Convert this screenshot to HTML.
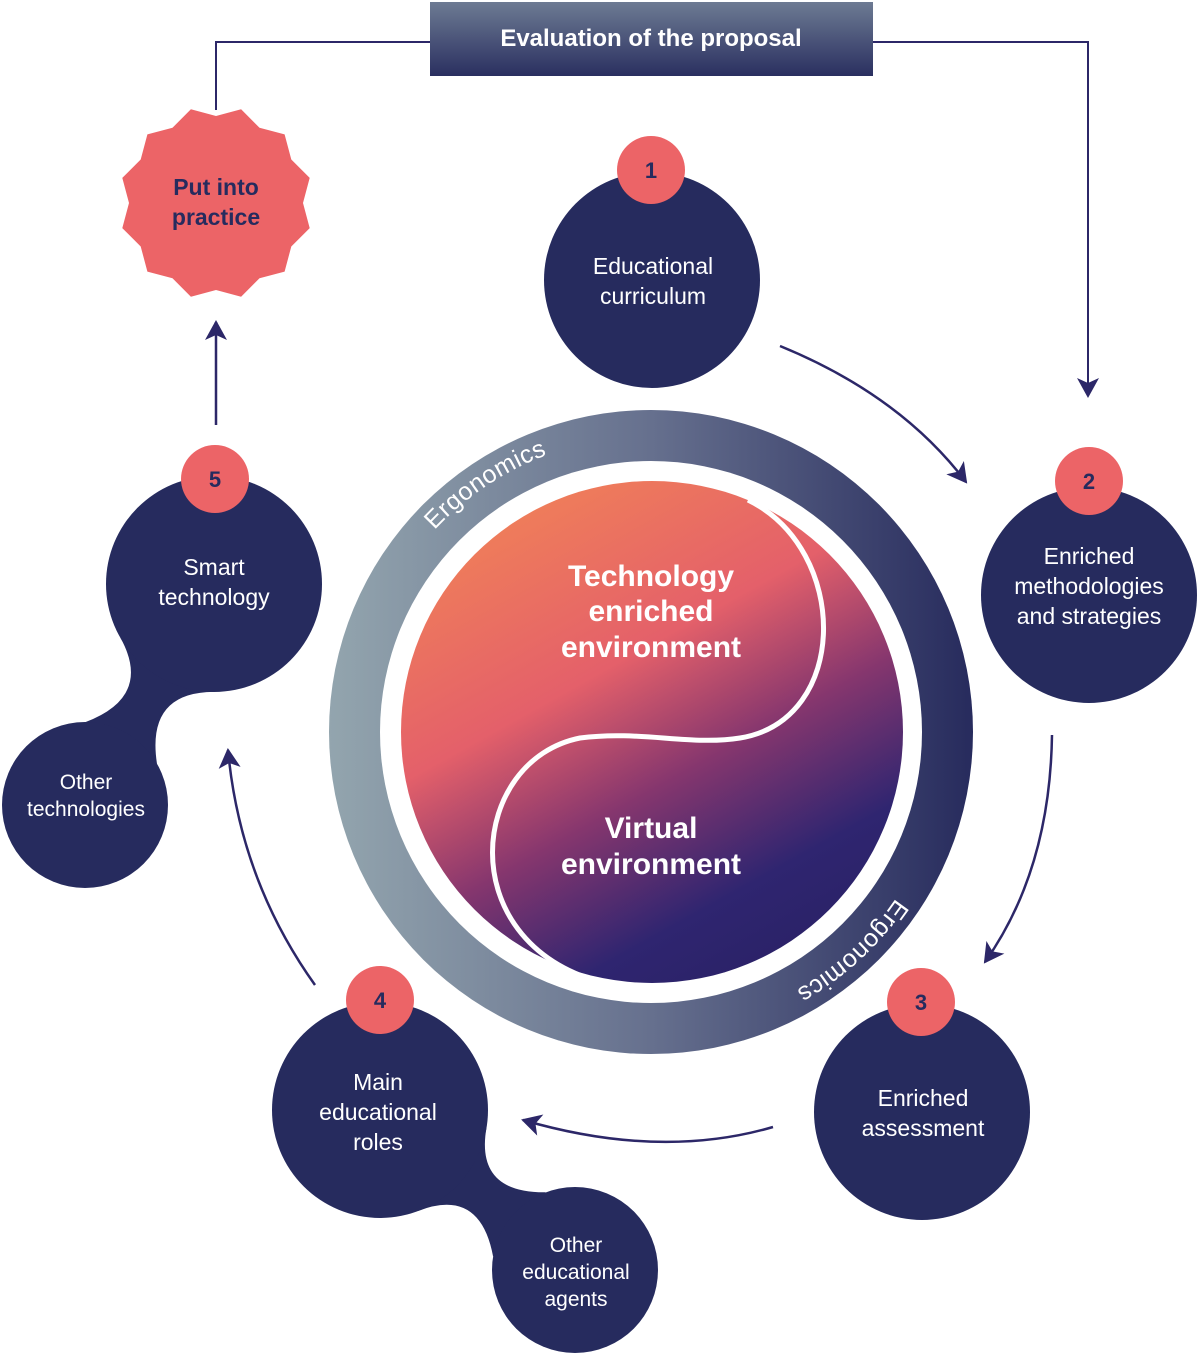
<!DOCTYPE html>
<html><head><meta charset="utf-8"><style>
html,body{margin:0;padding:0;background:#fff;}
svg{display:block;}
text{font-family:"Liberation Sans",sans-serif;}
</style></head><body>
<svg width="1200" height="1357" viewBox="0 0 1200 1357" xmlns="http://www.w3.org/2000/svg">
<defs>
<linearGradient id="ban" x1="0" y1="0" x2="0" y2="1">
<stop offset="0" stop-color="#6d7b93"/><stop offset="1" stop-color="#2a2f60"/></linearGradient>
<linearGradient id="ring" x1="0" y1="0" x2="1" y2="0">
<stop offset="0" stop-color="#93a5ae"/><stop offset="0.5" stop-color="#66708e"/><stop offset="1" stop-color="#272b5d"/></linearGradient>
<linearGradient id="core" x1="0.25" y1="0.05" x2="0.75" y2="0.95">
<stop offset="0" stop-color="#ef7d5a"/><stop offset="0.35" stop-color="#e4606a"/><stop offset="0.6" stop-color="#85366e"/><stop offset="0.85" stop-color="#2f2570"/><stop offset="1" stop-color="#2b2268"/></linearGradient>
<marker id="ah2" markerWidth="20" markerHeight="22" refX="18" refY="11" orient="auto" markerUnits="userSpaceOnUse" viewBox="0 0 20 22">
<path d="M0,0 L20,11 L0,22 L5,11 Z" fill="#2c2768"/></marker>
<path id="tp" d="M355,732 A296,296 0 1 1 947,732 A296,296 0 1 1 355,732"/>
</defs>

<polyline points="216,110 216,42 430,42" fill="none" stroke="#2c2768" stroke-width="2"/>
<polyline points="873,42 1088,42 1088,396" fill="none" stroke="#2c2768" stroke-width="2" marker-end="url(#ah2)"/>
<rect x="430" y="2" width="443" height="74" fill="url(#ban)"/>
<text x="651" y="46" fill="#fff" font-size="24" font-weight="bold" text-anchor="middle">Evaluation of the proposal</text>

<polygon fill="#ec6467" points="303,203 309.7,228.1 291.3,246.5 284.6,271.6 259.5,278.3 241.1,296.7 216,290 190.9,296.7 172.5,278.3 147.4,271.6 140.7,246.5 122.3,228.1 129,203 122.3,177.9 140.7,159.5 147.4,134.4 172.5,127.7 190.9,109.3 216,116 241.1,109.3 259.5,127.7 284.6,134.4 291.3,159.5 309.7,177.9"/>
<text x="216" y="195" fill="#262b5e" font-size="23" font-weight="bold" text-anchor="middle">Put into</text>
<text x="216" y="225" fill="#262b5e" font-size="23" font-weight="bold" text-anchor="middle">practice</text>
<line x1="216" y1="425" x2="216" y2="322" stroke="#2c2768" stroke-width="2.5" marker-end="url(#ah2)"/>

<path d="M780,346 Q900,395 966,482" fill="none" stroke="#2c2768" stroke-width="2.5" marker-end="url(#ah2)"/>
<path d="M1052,735 Q1050,870 985,962" fill="none" stroke="#2c2768" stroke-width="2.5" marker-end="url(#ah2)"/>
<path d="M773,1127 Q660,1160 523,1120" fill="none" stroke="#2c2768" stroke-width="2.5" marker-end="url(#ah2)"/>
<path d="M315,985 Q240,880 228,750" fill="none" stroke="#2c2768" stroke-width="2.5" marker-end="url(#ah2)"/>

<circle cx="651" cy="732" r="322" fill="url(#ring)"/>
<circle cx="651" cy="732" r="271" fill="#fff"/>
<circle cx="652" cy="732" r="251" fill="url(#core)"/>
<path d="M748,500 C850,550 850,720 740,738 C690,746 640,730 580,738 C470,760 450,940 600,982" fill="none" stroke="#fff" stroke-width="5"/>
<text fill="#fff" font-size="25" letter-spacing="0.5"><textPath href="#tp" startOffset="222">Ergonomics</textPath></text>
<text fill="#fff" font-size="25" letter-spacing="0.5"><textPath href="#tp" startOffset="1106">Ergonomics</textPath></text>
<g fill="#fff" font-size="30" font-weight="bold" text-anchor="middle">
<text x="651" y="586">Technology</text>
<text x="651" y="621">enriched</text>
<text x="651" y="657">environment</text>
<text x="651" y="838">Virtual</text>
<text x="651" y="874">environment</text>
</g>

<g fill="#262b5e">
<path d="M213.5,691.9 Q146,692.5 157,763.9 L85.4,722.1 Q153,696.5 120.3,637.5 Z"/>
<circle cx="214" cy="584" r="108"/>
<circle cx="85" cy="805" r="83"/>
<path d="M418.1,1211 Q480,1186.9 493.1,1256.5 L545.7,1192.3 Q475,1193.1 486.5,1127.6 Z"/>
<circle cx="380" cy="1110" r="108"/>
<circle cx="575" cy="1270" r="83"/>
<circle cx="652" cy="280" r="108"/>
<circle cx="1089" cy="595" r="108"/>
<circle cx="922" cy="1112" r="108"/>
</g>
<g fill="#ec6467">
<circle cx="651" cy="170" r="34"/>
<circle cx="1089" cy="481" r="34"/>
<circle cx="921" cy="1002" r="34"/>
<circle cx="380" cy="1000" r="34"/>
<circle cx="215" cy="479" r="34"/>
</g>
<g fill="#262b5e" font-size="22" font-weight="bold" text-anchor="middle">
<text x="651" y="178">1</text>
<text x="1089" y="489">2</text>
<text x="921" y="1010">3</text>
<text x="380" y="1008">4</text>
<text x="215" y="487">5</text>
</g>
<g fill="#fff" font-size="23" text-anchor="middle">
<text x="653" y="274">Educational</text>
<text x="653" y="304">curriculum</text>
<text x="1089" y="564">Enriched</text>
<text x="1089" y="594">methodologies</text>
<text x="1089" y="624">and strategies</text>
<text x="923" y="1106">Enriched</text>
<text x="923" y="1136">assessment</text>
<text x="378" y="1090">Main</text>
<text x="378" y="1120">educational</text>
<text x="378" y="1150">roles</text>
<text x="214" y="575">Smart</text>
<text x="214" y="605">technology</text>
</g>
<g fill="#fff" font-size="21" text-anchor="middle">
<text x="86" y="789">Other</text>
<text x="86" y="816">technologies</text>
<text x="576" y="1252">Other</text>
<text x="576" y="1279">educational</text>
<text x="576" y="1306">agents</text>
</g>
</svg>
</body></html>
